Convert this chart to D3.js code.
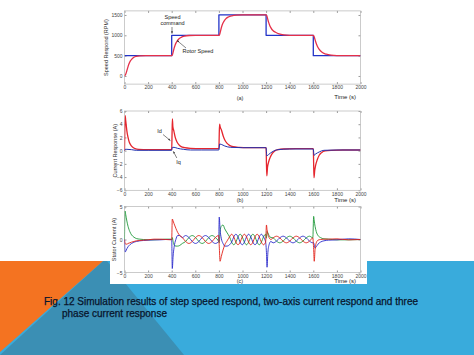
<!DOCTYPE html>
<meta charset="utf-8">
<style type="text/css">
body { margin: 0; }
svg { display: block; font-family: "Liberation Sans", Arial, sans-serif; }
.tick text { fill: #444; font-size: 5px; }
.tick line { stroke: #999; }
</style>
<body>
<script src="https://cdn.jsdelivr.net/npm/d3@7"></script>
<script>
// ---------- values ----------
const timeTicks = [0, 200, 400, 600, 800, 1000, 1200, 1400, 1600, 1800, 2000];

// (a) speed step response
const speedTicks = [0, 500, 1000, 1500];
const cmdTime  = [0, 400, 800, 1200, 1600, 2000];
const cmdSpeed = [500, 1000, 1500, 1000, 500, 500];
const rotorTime = [0, 10, 20, 30, 40, 50, 60, 80, 100, 130, 180, 400,
  405, 410, 420, 430, 440, 460, 480, 510, 550, 600, 800,
  805, 810, 820, 830, 840, 860, 880, 910, 950, 1000, 1200,
  1205, 1210, 1220, 1230, 1240, 1260, 1280, 1310, 1350, 1400, 1600,
  1605, 1610, 1620, 1630, 1640, 1660, 1680, 1710, 1750, 1800, 2000];
const rotorSpeed = [0, 40, 130, 230, 310, 370, 410, 460, 482, 495, 500, 500,
  515, 560, 680, 770, 830, 910, 950, 980, 995, 1000, 1000,
  1015, 1060, 1180, 1270, 1330, 1410, 1450, 1480, 1495, 1500, 1500,
  1485, 1440, 1330, 1250, 1190, 1110, 1075, 1035, 1010, 1000, 1000,
  985, 940, 840, 760, 700, 620, 570, 535, 512, 502, 500];

// (b) two-axis currents
const currentTicks = [-6, -4, -2, 0, 2, 4, 6];
const idTime = [0, 3, 6, 10, 15, 20, 30, 40, 55, 70, 90, 120, 200, 300, 398,
  400, 403, 406, 410, 418, 430, 445, 460, 480, 510, 560, 650, 798,
  800, 803, 806, 812, 820, 835, 850, 870, 890, 920, 970, 1050, 1198,
  1200, 1203, 1206, 1212, 1220, 1235, 1250, 1270, 1300, 1350, 1450, 1598,
  1600, 1603, 1606, 1612, 1620, 1635, 1650, 1670, 1700, 1750, 1850, 2000];
const idVals = [0, 3.5, 5.3, 4.6, 3.8, 3.0, 2.0, 1.3, 0.8, 0.5, 0.3, 0.2, 0.15, 0.15, 0.15,
  0.15, 2.5, 4.8, 3.6, 3.0, 2.0, 1.3, 0.9, 0.6, 0.45, 0.35, 0.3, 0.3,
  0.3, 2.5, 4.0, 3.5, 3.2, 2.3, 1.6, 1.1, 0.8, 0.6, 0.5, 0.45, 0.45,
  0.45, -2.0, -3.8, -2.5, -1.8, -1.0, -0.5, -0.1, 0.15, 0.25, 0.3, 0.3,
  0.3, -2.0, -4.1, -3.0, -2.2, -1.3, -0.7, -0.3, -0.05, 0.05, 0.1, 0.1];
const iqTime = [0, 5, 20, 60, 100, 200, 398,
  400, 405, 420, 450, 500, 560, 650, 798,
  800, 806, 820, 850, 900, 1000, 1198,
  1200, 1206, 1220, 1250, 1300, 1400, 1598,
  1600, 1606, 1620, 1650, 1690, 1800, 2000];
const iqVals = [0, 0.2, 0.2, 0.15, 0.05, 0.05, 0.05,
  0.05, 0.5, 0.5, 0.35, 0.2, 0.1, 0.1, 0.1,
  0.1, 1.0, 0.95, 0.7, 0.5, 0.45, 0.45,
  0.45, -0.8, -0.6, -0.2, 0.15, 0.25, 0.25,
  0.25, -0.7, -0.5, -0.2, 0.05, 0.1, 0.1];

// (c) three-phase stator currents
const statorTicks = [-5, 0, 5];
const abcTime = [0, 5, 10, 20, 30, 45, 60, 80, 100, 130, 160, 200, 250, 300, 350, 398,
  400, 405, 412, 420, 435, 450, 468,
  490, 518, 546, 574, 602, 630, 658, 686, 714, 742, 770, 798,
  803, 810, 820, 835, 850, 870,
  890, 908, 926, 944, 962, 980, 998, 1016, 1034, 1052, 1070, 1088, 1106, 1124, 1142, 1160, 1178, 1196,
  1203, 1208, 1215, 1225, 1240,
  1260, 1288, 1316, 1344, 1372, 1400, 1428, 1456, 1484, 1512, 1540, 1568, 1596,
  1603, 1608, 1615, 1625, 1640, 1660, 1690, 1730, 1800, 1900, 2000];
const iaVals = [0, -0.6, -0.7, -0.7, -0.6, -0.5, -0.4, -0.3, -0.2, -0.15, -0.1, -0.05, 0.05, 0.05, 0, -0.05,
  0, 3.1, 2.8, 2.4, 1.7, 1.1, 0.6,
  0.3, -0.3, -0.6, -0.3, 0.3, 0.6, 0.3, -0.3, -0.6, -0.3, 0.3, 0.6,
  -1.0, -3.3, -2.6, -1.6, -0.8, -0.2,
  0.4, 0.8, 0.4, -0.4, -0.8, -0.4, 0.4, 0.8, 0.4, -0.4, -0.8, -0.4, 0.4, 0.8, 0.4, -0.4, -0.8, -0.4,
  2.2, 1.5, 0.8, 0.3, 0.0,
  0.25, 0.5, 0.25, -0.25, -0.5, -0.25, 0.25, 0.5, 0.25, -0.25, -0.5, -0.25, 0.25,
  -1.5, -3.3, -1.5, -0.5, -0.1, 0, 0.05, 0.05, 0.1, -0.05, 0];
const ibVals = [0, 4.3, 3.8, 2.8, 2.0, 1.2, 0.7, 0.35, 0.15, 0.05, 0, -0.05, -0.05, 0, 0.05, 0.05,
  0, 0.3, -0.3, -0.8, -1.0, -1.0, -0.9,
  -0.6, -0.3, 0.3, 0.6, 0.3, -0.3, -0.6, -0.3, 0.3, 0.6, 0.3, -0.3,
  -0.5, 1.2, 2.0, 2.2, 1.6, 1.0,
  0.4, -0.4, -0.8, -0.4, 0.4, 0.8, 0.4, -0.4, -0.8, -0.4, 0.4, 0.8, 0.4, -0.4, -0.8, -0.4, 0.4, 0.8,
  0.2, 1.2, 1.0, 0.6, 0.3,
  0.25, -0.25, -0.5, -0.25, 0.25, 0.5, 0.25, -0.25, -0.5, -0.25, 0.25, 0.5, 0.25,
  3.5, 2.8, 2.0, 1.2, 0.6, 0.3, 0.1, 0.05, -0.05, -0.05, 0];
const icVals = [0, -1.9, -1.8, -1.4, -1.1, -0.8, -0.6, -0.4, -0.3, -0.2, -0.15, -0.1, -0.05, -0.05, 0, 0,
  0, -4.4, -2.5, -1.2, 0.0, 0.6, 0.6,
  0.3, 0.6, 0.3, -0.3, -0.6, -0.3, 0.3, 0.6, 0.3, -0.3, -0.6, -0.3,
  3.4, 1.5, 0.2, -0.6, -1.0, -1.0,
  -0.8, -0.4, 0.4, 0.8, 0.4, -0.4, -0.8, -0.4, 0.4, 0.8, 0.4, -0.4, -0.8, -0.4, 0.4, 0.8, 0.4, -0.4,
  -2.0, -4.2, -2.0, -0.8, -0.3,
  -0.5, -0.25, 0.25, 0.5, 0.25, -0.25, -0.5, -0.25, 0.25, 0.5, 0.25, -0.25, -0.5,
  -0.5, -0.8, -1.3, -1.1, -0.7, -0.4, -0.2, -0.1, -0.05, 0.1, 0];

const caption = ["Fig. 12 Simulation results of step speed respond, two-axis current respond and three",
                 "phase current response"];

// ---------- slide ----------
const W = 474, H = 355;
const svg = d3.select("body").append("svg").attr("width", W).attr("height", H);

svg.append("rect").attr("width", W).attr("height", H).attr("fill", "#fff");
svg.append("rect").attr("x", 0).attr("y", 261).attr("width", W).attr("height", H - 261).attr("fill", "#39abdc");
svg.append("polygon").attr("points", "103,261 107,261 184,355 0,355").attr("fill", "#3b8fb4");
svg.append("polygon").attr("points", "0,261 103,261 0,352").attr("fill", "#f47321");
// the figure picture itself
svg.append("rect").attr("x", 110).attr("y", 0).attr("width", 257).attr("height", 284).attr("fill", "#fff");

// arrow head for the annotations
svg.append("defs").append("marker")
  .attr("id", "arr").attr("viewBox", "0 0 10 10").attr("refX", 9).attr("refY", 5)
  .attr("markerWidth", 4).attr("markerHeight", 4).attr("orient", "auto")
  .append("path").attr("d", "M0,1L10,5L0,9Z").attr("fill", "#333");

const x = d3.scaleLinear().domain([0, 2000]).range([124.5, 360.5]);
const fmt = d3.format("d");

function panel(id, top, bottom, domain, ticks, ylabel, labelX, sub, subY, timeY) {
  const y = d3.scaleLinear().domain(domain).range([bottom, top]);
  const g = svg.append("g");

  g.append("clipPath").attr("id", "clip" + id)
    .append("rect").attr("x", x(0)).attr("y", top).attr("width", x(2000) - x(0)).attr("height", bottom - top);

  g.append("g").attr("transform", `translate(0,${bottom})`)
    .call(d3.axisBottom(x).tickValues(timeTicks).tickFormat(fmt).tickSizeInner(-2).tickSizeOuter(0).tickPadding(1.8));
  g.append("g").attr("transform", `translate(0,${top})`)
    .call(d3.axisTop(x).tickValues(timeTicks).tickSizeInner(-2).tickSizeOuter(0).tickFormat(""));
  g.append("g").attr("transform", `translate(${x(0)},0)`)
    .call(d3.axisLeft(y).tickValues(ticks).tickFormat(fmt).tickSizeInner(-2).tickSizeOuter(0).tickPadding(2));
  g.append("g").attr("transform", `translate(${x(2000)},0)`)
    .call(d3.axisRight(y).tickValues(ticks).tickSizeInner(-2).tickSizeOuter(0).tickFormat(""));
  g.selectAll(".domain").remove();

  g.append("rect").attr("x", x(0)).attr("y", top)
    .attr("width", x(2000) - x(0)).attr("height", bottom - top)
    .attr("fill", "none").attr("stroke", "#b5b5b5").attr("stroke-width", 0.7);

  g.append("text").attr("transform", `translate(${labelX},${(top + bottom) / 2}) rotate(-90)`)
    .attr("text-anchor", "middle").attr("font-size", 5.5).attr("fill", "#333").text(ylabel);
  g.append("text").attr("x", 240).attr("y", subY).attr("text-anchor", "middle")
    .attr("font-size", 5.5).attr("fill", "#333").text(sub);
  g.append("text").attr("x", 356).attr("y", timeY).attr("text-anchor", "end")
    .attr("font-size", 6).attr("fill", "#222").text("Time (s)");

  const plot = g.append("g").attr("clip-path", `url(#clip${id})`);
  return { y, plot };
}

function series(p, xs, ys, color, width, curve) {
  const line = d3.line().x((d, i) => x(xs[i])).y(d => p.y(d)).curve(curve || d3.curveMonotoneX);
  p.plot.append("path").datum(ys).attr("d", line)
    .attr("fill", "none").attr("stroke", color).attr("stroke-width", width)
    .attr("stroke-linejoin", "round");
}

function note(lines, tx, ty, x1, y1, x2, y2) {
  const t = svg.append("text").attr("font-size", 5.5).attr("fill", "#222").attr("text-anchor", "middle");
  lines.forEach((s, i) => t.append("tspan").attr("x", tx).attr("y", ty + i * 6.5).text(s));
  svg.append("line").attr("x1", x1).attr("y1", y1).attr("x2", x2).attr("y2", y2)
    .attr("stroke", "#333").attr("stroke-width", 0.6).attr("marker-end", "url(#arr)");
}

// (a)
const pa = panel("a", 10.9, 84.1, [-200, 1600], speedTicks, "Speed Respond (RPM)", 108, "(a)", 99.5, 99);
series(pa, cmdTime, cmdSpeed, "#2233c8", 1.3, d3.curveStepAfter);
series(pa, rotorTime, rotorSpeed, "#e5304a", 1.3);
note(["Speed", "command"], 172.5, 18.5, 172, 27, 172, 33.5);
note(["Rotor Speed"], 198, 52.5, 186, 48, 177, 40.5);

// (b)
const pb = panel("b", 111, 190.3, [-6, 6], currentTicks, "Current Response (A)", 116.5, "(b)", 202, 201.5);
series(pb, idTime, idVals, "#e5262e", 1.3);
series(pb, iqTime, iqVals, "#2233b0", 1);
note(["Id"], 159.5, 133, 163, 134.5, 170.3, 140.5);
note(["Iq"], 178.5, 164, 176.8, 158, 173.4, 151.5);

// (c)
const pc = panel("c", 206.5, 272.5, [-5, 5], statorTicks, "Stator Current (A)", 115.5, "(c)", 283, 283);
series(pc, abcTime, ibVals, "#1f9a3a", 0.9);
series(pc, abcTime, icVals, "#2b2bcc", 0.9);
series(pc, abcTime, iaVals, "#e2231a", 0.9);

// caption (slightly heavier, as in the slide)
svg.append("text").attr("x", 44).attr("y", 304.5).attr("font-size", 10).attr("fill", "#08142b")
  .attr("stroke", "#08142b").attr("stroke-width", 0.25)
  .attr("textLength", 374).attr("lengthAdjust", "spacingAndGlyphs").text(caption[0]);
svg.append("text").attr("x", 62).attr("y", 316.5).attr("font-size", 10).attr("fill", "#08142b")
  .attr("stroke", "#08142b").attr("stroke-width", 0.25)
  .attr("textLength", 105).attr("lengthAdjust", "spacingAndGlyphs").text(caption[1]);
</script>
</body>
</html>
